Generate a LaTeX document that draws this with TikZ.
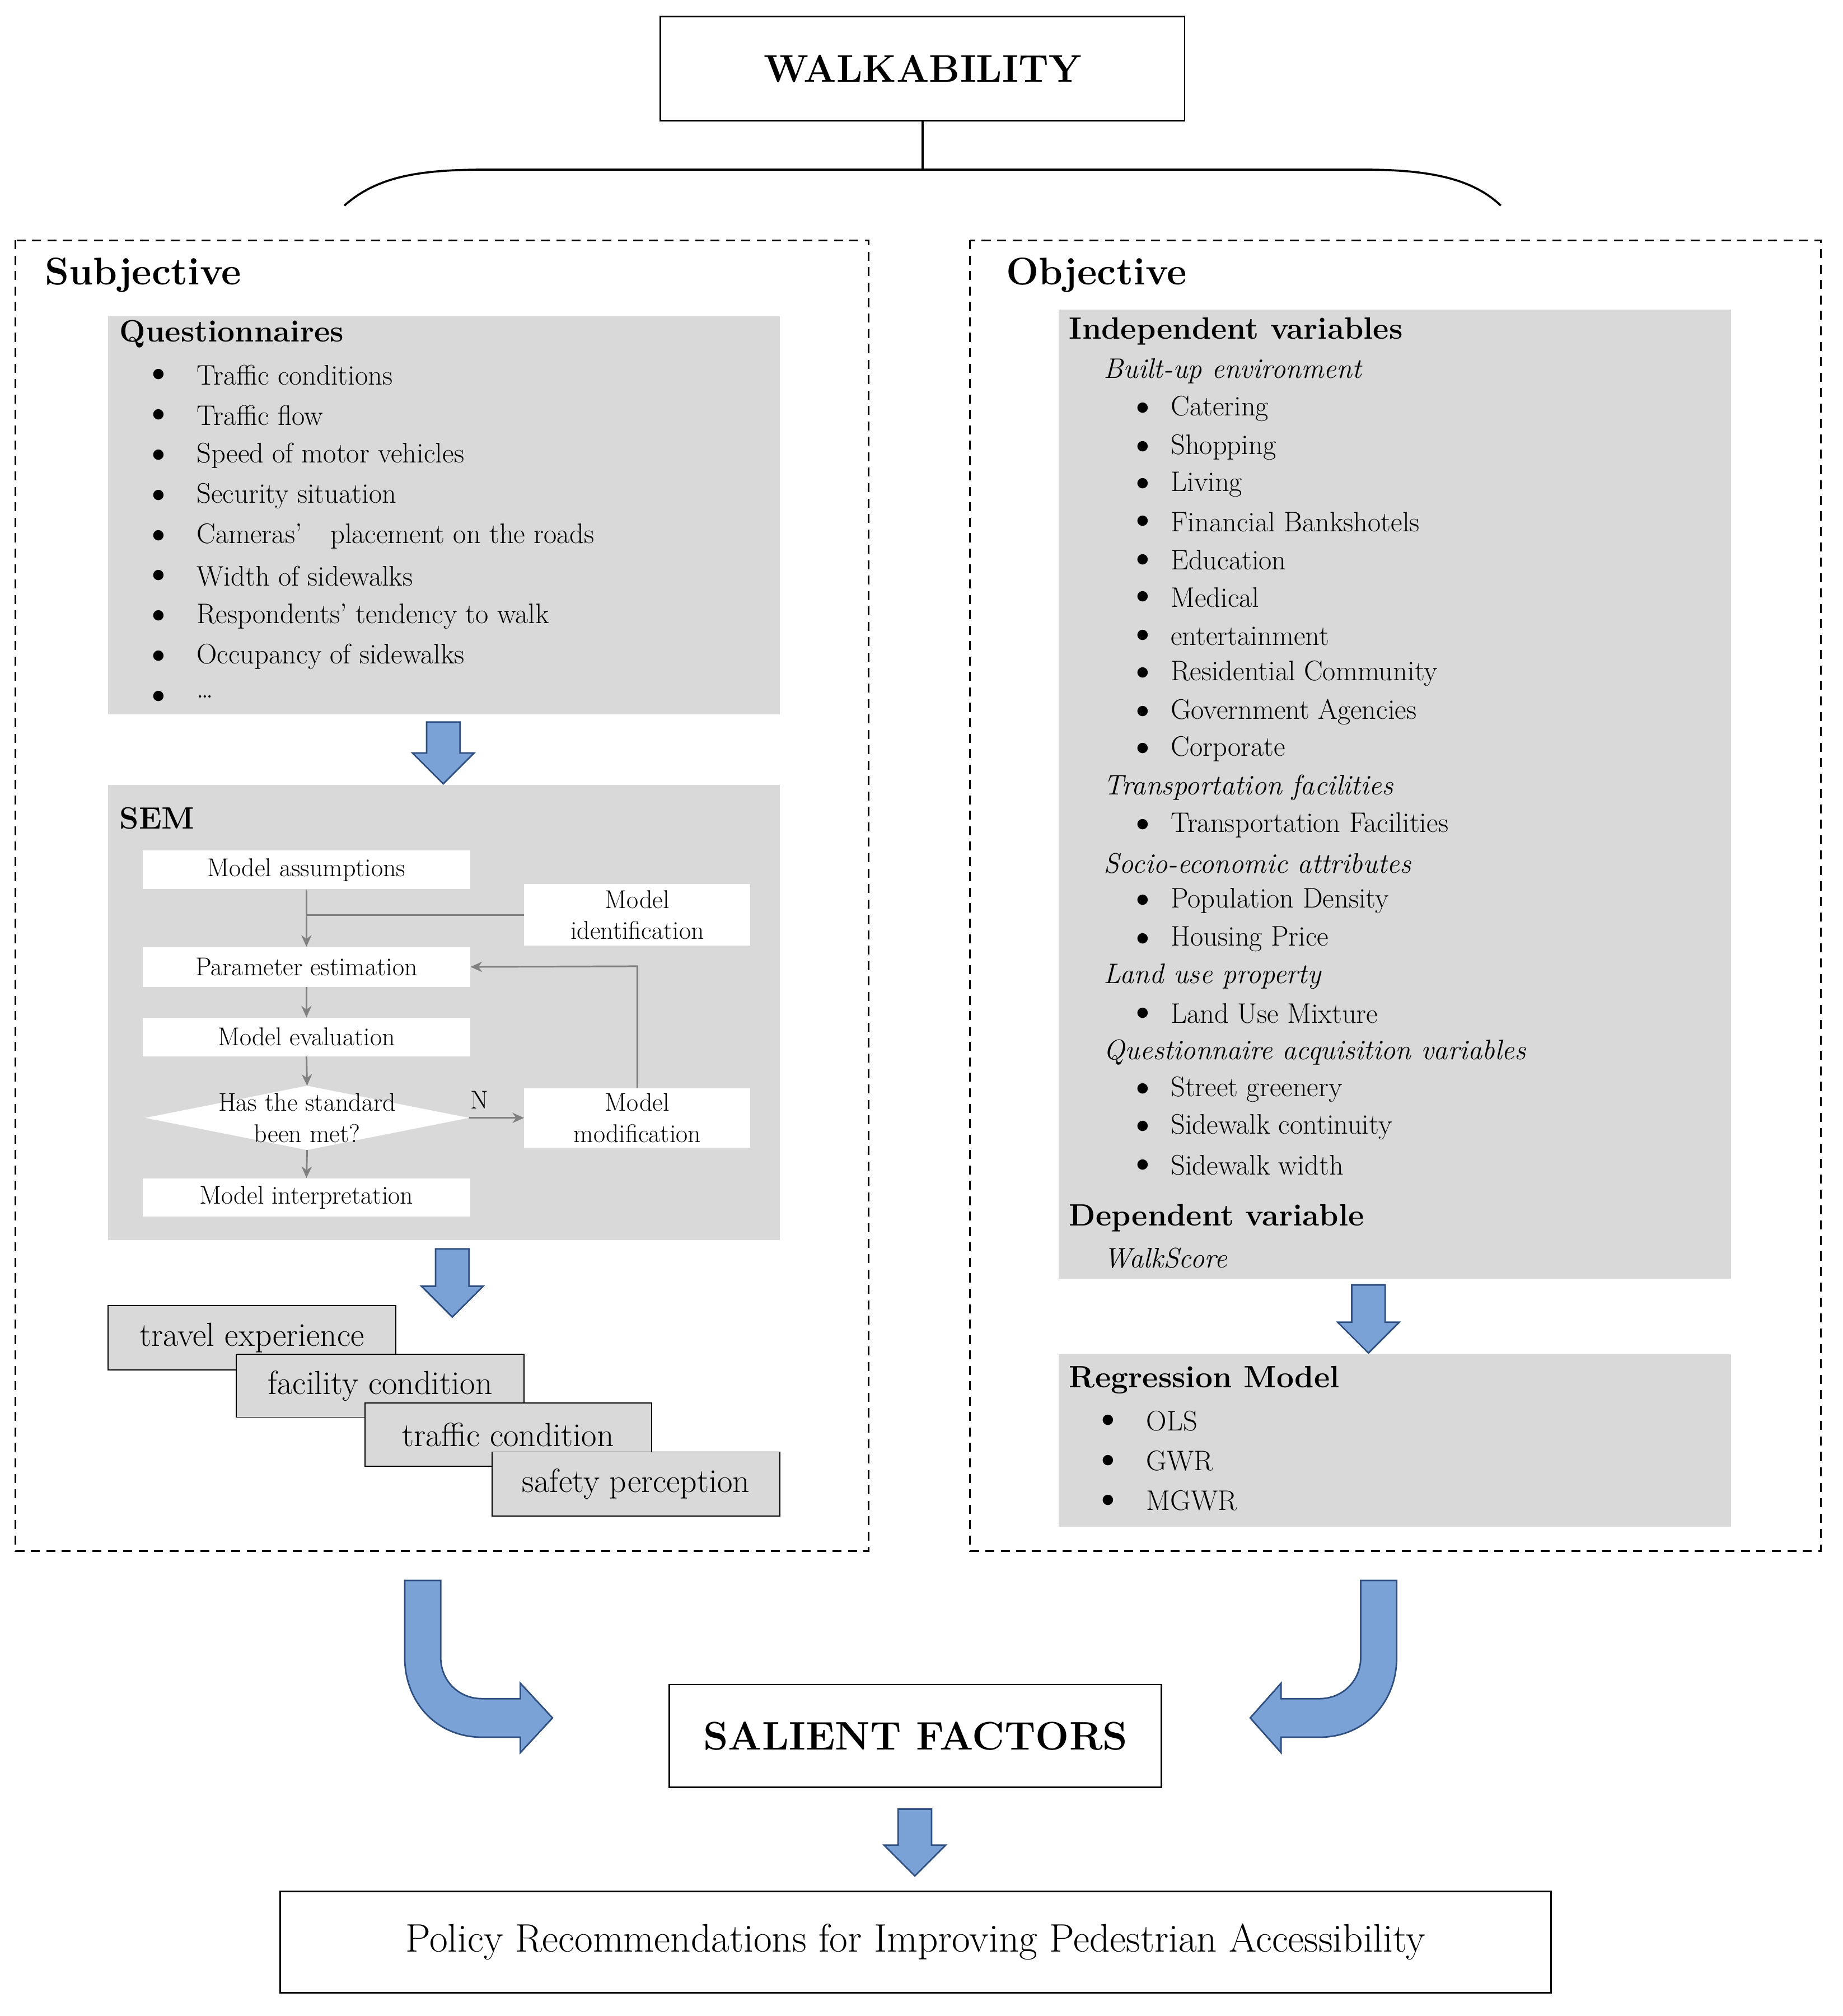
\documentclass[tikz,border=0pt]{standalone}
\usepackage{fontspec}
\usetikzlibrary{arrows.meta}
\definecolor{gbox}{HTML}{D9D9D9}
\definecolor{arrf}{HTML}{7BA2D6}
\definecolor{arrd}{HTML}{2F4F80}
\definecolor{garr}{HTML}{808080}
\newcommand\bdown[3]{\draw[arrd,fill=arrf,line width=1.2pt] (#1-13,#2) -- (#1+13,#2) -- (#1+13,#3-24) -- (#1+24,#3-24) -- (#1,#3) -- (#1-24,#3-24) -- (#1-13,#3-24) -- cycle;}
\tikzset{
 body/.style={font=\fontsize{22}{26}\selectfont, anchor=west, inner sep=0pt},
 itl/.style={body, font=\fontsize{22}{26}\selectfont\itshape},
 hd/.style={font=\fontsize{24}{28}\selectfont\bfseries, anchor=west, inner sep=0pt},
 big/.style={font=\fontsize{30}{34}\selectfont\bfseries, anchor=west, inner sep=0pt},
 wbox/.style={fill=white, draw=none, font=\fontsize{20}{24}\selectfont, align=center, inner sep=0pt},
 stk/.style={fill=gbox, draw=black, line width=0.8pt, font=\fontsize{26}{30}\selectfont, inner sep=0pt},
 ga/.style={garr, line width=1.3pt, -{Stealth[length=9pt,width=8pt]}},
 dbox/.style={draw=black, line width=1.3pt, dash pattern=on 7pt off 5pt},
 frame/.style={draw=black, line width=1.2pt, fill=white}
}
\begin{document}
\begin{tikzpicture}[x=1pt,y=-1pt]
\useasboundingbox (0,0) rectangle (1434,1569);
% top
\node[frame, minimum width=408pt, minimum height=81pt, font=\fontsize{30}{34}\selectfont\bfseries] (walk) at (718,53.5) {WALKABILITY};
\draw[line width=1.6pt] (walk.south) -- (718,132);
\draw[line width=1.6pt] (268,160) .. controls (295,136) and (330,132) .. (380,132) -- (1060,132) .. controls (1110,132) and (1145,138) .. (1168,160);
% dashed boxes
\draw[dbox] (12,187) rectangle (676,1207);
\draw[dbox] (755,187) rectangle (1417,1207);
\node[big] (subj) at (35,214) {Subjective};
\node[big] (obj) at (783,214) {Objective};
% questionnaires
\fill[gbox] (84,246) rectangle (607,556);
\node[hd] (q) at (93,260) {Questionnaires};
\foreach \t [count=\i] in {Traffic conditions, Traffic flow, Speed of motor vehicles, Security situation, {Cameras’\quad placement on the roads}, Width of sidewalks, Respondents' tendency to walk, Occupancy of sidewalks, {\dots}}{
 \pgfmathsetmacro\yy{292+31.3*(\i-1)}
 \node[body] at (118,\yy) {$\bullet$};
 \node[body] at (153,\yy) {\t};
}
\bdown{345}{562}{610}
% SEM
\fill[gbox] (84,611) rectangle (607,965);
\node[hd] (sem) at (93,637) {SEM};
\node[wbox, minimum width=255pt, minimum height=30pt] (ma) at (238.5,677) {Model assumptions};
\node[wbox, minimum width=176pt, minimum height=48pt] (mi) at (496,712) {Model\\identification};
\node[wbox, minimum width=255pt, minimum height=31pt] (pe) at (238.5,752.5) {Parameter estimation};
\node[wbox, minimum width=255pt, minimum height=30pt] (me) at (238.5,807) {Model evaluation};
\fill[white] (113,870) -- (239,845) -- (365,870) -- (239,895) -- cycle;
\node[font=\fontsize{20}{24}\selectfont, align=center, inner sep=0pt] (dm) at (239,870) {Has the standard\\been met?};
\node[wbox, minimum width=176pt, minimum height=46pt] (mm) at (496,870) {Model\\modification};
\node[wbox, minimum width=255pt, minimum height=30pt] (mint) at (238.5,932) {Model interpretation};
\draw[ga] (ma.south) -- (pe.north);
\draw[garr, line width=1.3pt] (mi.west) -- (239,712);
\draw[ga] (pe.south) -- (me.north);
\draw[ga] (me.south) -- (239,845);
\draw[ga] (239,895) -- (mint.north);
\draw[ga] (365,870) -- (mm.west);
\node[font=\fontsize{20}{24}\selectfont, inner sep=0pt] (nl) at (373,856) {N};
\draw[ga] (mm.north) -- (496,752) -- (pe.east);
\bdown{352}{972}{1025}
% stacked
\node[stk, minimum width=224pt, minimum height=50pt] (s1) at (196,1041) {travel experience};
\node[stk, minimum width=224pt, minimum height=49pt] (s2) at (296,1078.5) {facility condition};
\node[stk, minimum width=223pt, minimum height=49pt] (s3) at (395.5,1116.5) {traffic condition};
\node[stk, minimum width=224pt, minimum height=50pt] (s4) at (495,1155) {safety perception};
% objective
\fill[gbox] (824,241) rectangle (1347,995);
\node[hd] (iv) at (832,258) {Independent variables};
\foreach \k/\t/\y in {i/Built-up environment/289, b/Catering/318, b/Shopping/348, b/Living/377, b/Financial Bankshotels/406, b/Education/436, b/Medical/465, b/entertainment/495, b/Residential Community/524, b/Government Agencies/554, b/Corporate/583, i/Transportation facilities/613, b/Transportation Facilities/642, i/Socio-economic attributes/672, b/Population Density/701, b/Housing Price/731, i/Land use property/760, b/Land Use Mixture/789, i/Questionnaire acquisition variables/819, b/Street greenery/848, b/Sidewalk continuity/877, b/Sidewalk width/907}{
 \if\k i\node[itl] at (859,\y) {\t};\else
 \node[body] at (884,\y) {$\bullet$};\node[body] at (911,\y) {\t};\fi
}
\node[hd] (dv) at (832,948) {Dependent variable};
\node[itl] (ws) at (859,979) {WalkScore};
\bdown{1065}{1000}{1053}
\fill[gbox] (824,1054) rectangle (1347,1188);
\node[hd] (rm) at (832,1074) {Regression Model};
\foreach \t/\y in {OLS/1106, GWR/1137, MGWR/1168}{
 \node[body] at (857,\y) {$\bullet$};\node[body] at (892,\y) {\t};
}
% curved arrows
\draw[arrd,fill=arrf,line width=1.2pt] (315,1230) -- (315,1290) .. controls (315,1325) and (340,1352) .. (375,1352) -- (405,1352) -- (405,1364) -- (430,1337) -- (405,1310) -- (405,1322) -- (375,1322) .. controls (357,1322) and (343,1308) .. (343,1290) -- (343,1230) -- cycle;
\draw[arrd,fill=arrf,line width=1.2pt] (1087,1230) -- (1087,1290) .. controls (1087,1325) and (1062,1352) .. (1027,1352) -- (997,1352) -- (997,1364) -- (973,1337) -- (997,1310) -- (997,1322) -- (1027,1322) .. controls (1045,1322) and (1059,1308) .. (1059,1290) -- (1059,1230) -- cycle;
\node[frame, minimum width=383pt, minimum height=80pt, font=\fontsize{31}{35}\selectfont\bfseries] (sf) at (712.5,1351) {SALIENT FACTORS};
\bdown{712}{1408}{1460}
\node[frame, minimum width=989pt, minimum height=79pt, font=\fontsize{31}{35}\selectfont] (pol) at (712.5,1511.5) {Policy Recommendations for Improving Pedestrian Accessibility};
\end{tikzpicture}
\end{document}
